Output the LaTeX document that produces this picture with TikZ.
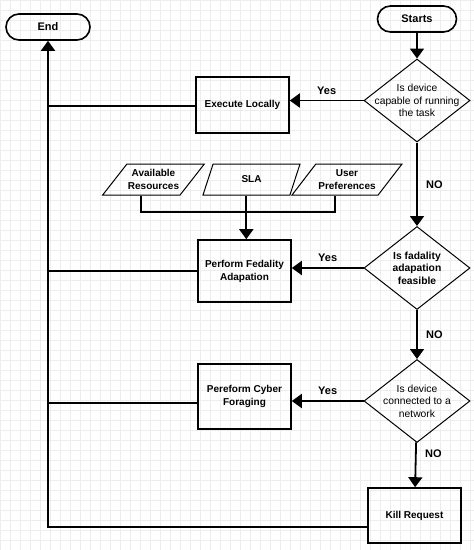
\documentclass[tikz,border=0pt]{standalone}
\usepackage{fontspec}
\setmainfont{Liberation Sans}
\usetikzlibrary{shapes.geometric,arrows.meta}

\tikzstyle{terminal}=[draw,line width=1.6pt,rounded corners=13pt,minimum height=26pt,font=\bfseries\fontsize{11}{13}\selectfont]
\tikzstyle{process}=[draw,line width=1.6pt,minimum width=93pt,align=center,font=\bfseries\fontsize{10}{13}\selectfont]
\tikzstyle{decision}=[draw,diamond,line width=1pt,minimum width=106pt,minimum height=83pt,inner sep=0pt]
\tikzstyle{dtext}=[align=center,font=\fontsize{10.3}{12.5}\selectfont]
\tikzstyle{input}=[draw,trapezium,trapezium left angle=42,trapezium right angle=138,trapezium stretches body=true,line width=1pt,minimum height=31pt,align=center,inner sep=1pt,font=\bfseries\fontsize{10}{12.5}\selectfont]
\tikzstyle{flow}=[draw,line width=1.8pt,-{Triangle[width=14pt,length=10pt]}]
\tikzstyle{wire}=[draw,line width=1.8pt]
\tikzstyle{answer}=[font=\bfseries\fontsize{11}{13}\selectfont]
\tikzstyle{gridline}=[draw,black!7,line width=0.4pt]

\begin{document}
\begin{tikzpicture}[x=1pt, y=-1pt]
    \useasboundingbox (0,0) rectangle (474,550);
    \fill[white] (0,0) rectangle (474,550);
    \path[gridline] (0,0) grid[step=10pt] (474,550);
    % Start and end
    \node[terminal, minimum width=84pt] (stop) at (48,27) {End};
    \node[terminal, minimum width=79pt] (start) at (417,19) {Starts};
    % Decisions
    \foreach \pos/\name/\text in {{(417,100.5)/capable/{Is device\\capable of running\\the task}},
                                  {(417,268)/feasible/{\bfseries Is fadality\\\bfseries adapation\\\bfseries feasible}},
                                  {(417,401)/network/{Is device\\connected to a\\network}}}
    {
        \node[decision] (\name) at \pos {};
        \node[dtext] at (\name) {\text};
    }
    % Processes
    \foreach \pos/\name/\h/\text in {{(242.5,105)/execute/56/{Execute Locally}},
                                     {(244.5,271)/fidelity/62/{Perform Fedality\\Adapation}},
                                     {(244.5,396.5)/foraging/65/{Pereform Cyber\\Foraging}},
                                     {(414.5,515.5)/kill/55/{Kill Request}}}
        \node[process, minimum height=\h pt] (\name) at \pos {\text};
    % Inputs
    \foreach \pos/\name/\w/\text in {{(153.5,179.5)/res/97/{Available\\Resources}},
                                     {(251.5,179.5)/sla/97/{SLA}},
                                     {(347,179.5)/pref/110/{User\\Preferences}}}
        \node[input, minimum width=\w pt] (\name) at \pos {\text};
    \coordinate (bus) at (48,527);
    \coordinate (merge) at (240,212);
    % Main flow
    \path[flow] (start) -- (capable);
    \path[flow] (capable) -- node[answer, right=5pt] {NO} (feasible);
    \path[flow] (feasible) -- node[answer, right=5pt] {NO} (network);
    \path[flow] (network) -- node[answer, right=5pt, pos=0.25] {NO} (kill);
    \path[flow] (capable.west) -- node[answer, above=2pt] {Yes} (execute.east |- capable.west);
    \path[flow] (feasible.west) -- node[answer, above=2pt] {Yes} (fidelity.east |- feasible.west);
    \path[flow] (network.west) -- node[answer, above=2pt] {Yes} (foraging.east |- network.west);
    % Inputs to fidelity
    \path[wire] (res.bottom side) |- (merge) -| (pref.bottom side);
    \path[flow] (sla.bottom side) -- (sla.bottom side |- fidelity.north);
    % Back to the end
    \path[flow] (kill.west |- bus) -- (bus) -- (stop.south);
    \foreach \name/\dy in {execute/-1, fidelity/0, foraging/-6.5}
        \path[wire] ([yshift=\dy pt]\name.west) -- ([yshift=\dy pt]\name.west -| bus);
\end{tikzpicture}
\end{document}
